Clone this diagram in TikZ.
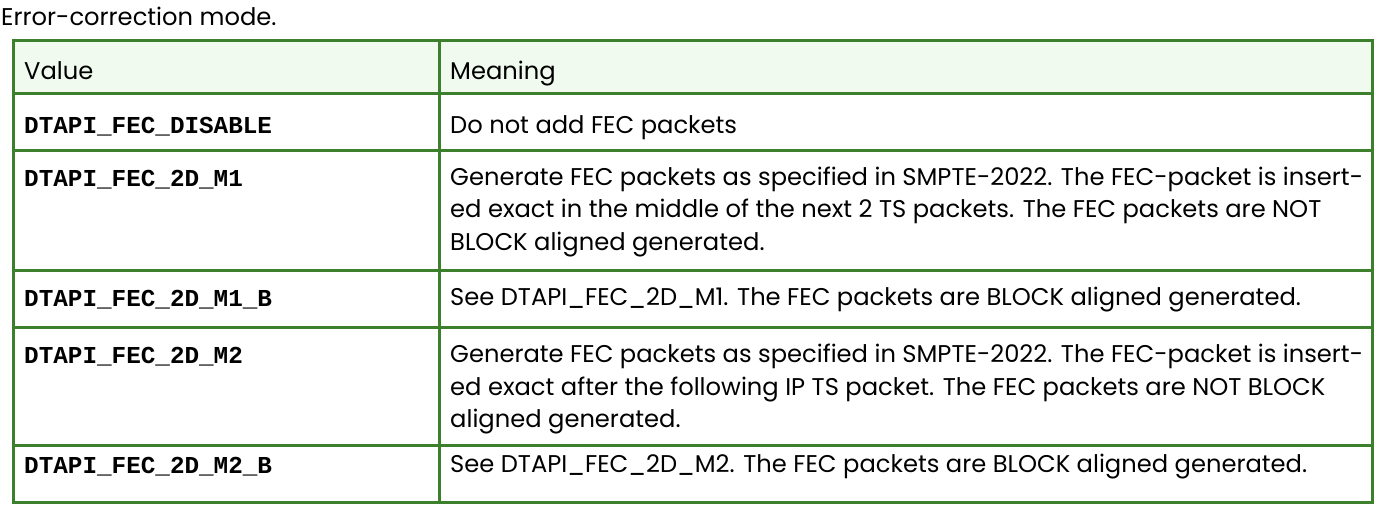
\documentclass[tikz,border=0pt]{standalone}
\usepackage{fontspec}
\setmainfont{Poppins}
\newfontfamily\monob{Liberation Mono}[BoldFont={Liberation Mono Bold}]
\definecolor{bord}{HTML}{3C7F2C}
\definecolor{hdr}{HTML}{F0FAEE}
\begin{document}
\begin{tikzpicture}[x=1pt,y=-1pt,
  txt/.style={anchor=base west,inner sep=0,font=\fontsize{24.2}{28}\selectfont},
  val/.style={anchor=base west,inner sep=0,font=\monob\bfseries\fontsize{24.3}{26}\selectfont},
  grid/.style={draw=bord,line width=3pt}]
\useasboundingbox (0,0) rectangle (1384,514);
\fill[hdr] (13,40) rectangle (1372,93);
\node[txt] (title) at (1,25) {Error-correction mode.};
\draw[grid] (13,40) rectangle (1372,502);
\foreach \y in {93,150,270,327,445} \draw[grid] (13,\y) -- (1372,\y);
\draw[grid] (439,40) -- (439,502);
\node[txt] (h1) at (24,79) {Value};
\node[txt] (h2) at (450,79) {Meaning};
\node[val] (v1) at (24,133) {DTAPI\_FEC\_DISABLE};
\node[txt] (m1) at (450,133) {Do not add FEC packets};
\node[val] (v2) at (24,186) {DTAPI\_FEC\_2D\_M1};
\node[txt] (m2a) at (450,185) {Generate FEC packets as specified in SMPTE-2022. The FEC-packet is insert-};
\node[txt] (m2b) at (450,217) {ed exact in the middle of the next 2 TS packets. The FEC packets are NOT};
\node[txt] (m2c) at (450,250) {BLOCK aligned generated.};
\node[val] (v3) at (24,306) {DTAPI\_FEC\_2D\_M1\_B};
\node[txt] (m3) at (450,305) {See DTAPI\_FEC\_2D\_M1. The FEC packets are BLOCK aligned generated.};
\node[val] (v4) at (24,363) {DTAPI\_FEC\_2D\_M2};
\node[txt] (m4a) at (450,362) {Generate FEC packets as specified in SMPTE-2022. The FEC-packet is insert-};
\node[txt] (m4b) at (450,395) {ed exact after the following IP TS packet. The FEC packets are NOT BLOCK};
\node[txt] (m4c) at (450,427) {aligned generated.};
\node[val] (v5) at (24,473) {DTAPI\_FEC\_2D\_M2\_B};
\node[txt] (m5) at (450,472) {See DTAPI\_FEC\_2D\_M2. The FEC packets are BLOCK aligned generated.};
\end{tikzpicture}
\end{document}
